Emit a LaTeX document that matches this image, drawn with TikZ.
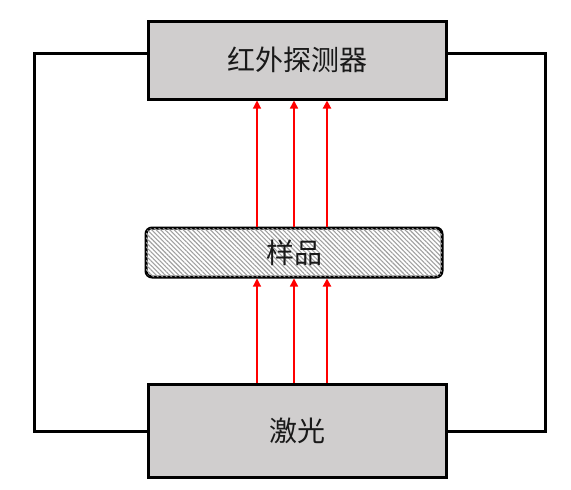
\documentclass[tikz,border=0pt]{standalone}
\usepackage{fontspec}
\newfontfamily\cjk{Noto Sans CJK SC}
\usetikzlibrary{arrows.meta,patterns.meta}
\definecolor{boxgray}{RGB}{208,206,206}
\definecolor{hatchgray}{RGB}{160,160,160}
\definecolor{txt}{RGB}{25,25,25}
\begin{document}
\begin{tikzpicture}[x=1pt,y=-1pt,
  unit/.style={draw=black,line width=3pt,fill=boxgray,minimum width=298pt,minimum height=78pt,inner sep=0pt,
    font=\cjk\fontsize{28}{32}\selectfont,text=txt},
  samplebox/.style={draw=black,line width=3pt,rounded corners=6pt,minimum width=296pt,minimum height=49pt,inner sep=0pt,
    fill=white,postaction={pattern={Lines[angle=-45,distance=3.2pt,line width=1.1pt]},pattern color=hatchgray},
    font=\cjk\fontsize{28}{32}\selectfont,text=txt},
  wire/.style={draw=black,line width=3pt},
  ray/.style={draw=red,-{Triangle[width=8pt,length=8pt]}}]
\useasboundingbox (0,0) rectangle (571,490);
\node[unit] (det) at (297,60) {红外探测器};
\node[unit,minimum height=93pt] (laser) at (297,430.5) {激光};
\node[samplebox] (samp) at (294,252.5) {};
\node[font=\cjk\fontsize{28}{32}\selectfont,text=txt] (samplabel) at (294,252.5) {样品};
\coordinate (tl) at (34,53);
\coordinate (bl) at (34,431);
\coordinate (tr) at (545,53);
\coordinate (br) at (545,431);
\draw[wire] (det.west |- tl) -- (tl) -- (bl) -- (laser.west |- bl);
\draw[wire] (det.east |- tr) -- (tr) -- (br) -- (laser.east |- br);
\coordinate (a1) at (257,0);
\coordinate (a2) at (294,0);
\coordinate (a3) at (327,0);
\draw[ray,line width=1.1pt] (laser.north -| a1) -- (samp.south -| a1);
\draw[ray,line width=1.5pt] (laser.north -| a2) -- (samp.south -| a2);
\draw[ray,line width=2.3pt] (laser.north -| a3) -- (samp.south -| a3);
\draw[ray,line width=1.1pt] (samp.north -| a1) -- (det.south -| a1);
\draw[ray,line width=1.5pt] (samp.north -| a2) -- (det.south -| a2);
\draw[ray,line width=2.3pt] (samp.north -| a3) -- (det.south -| a3);
\end{tikzpicture}
\end{document}
